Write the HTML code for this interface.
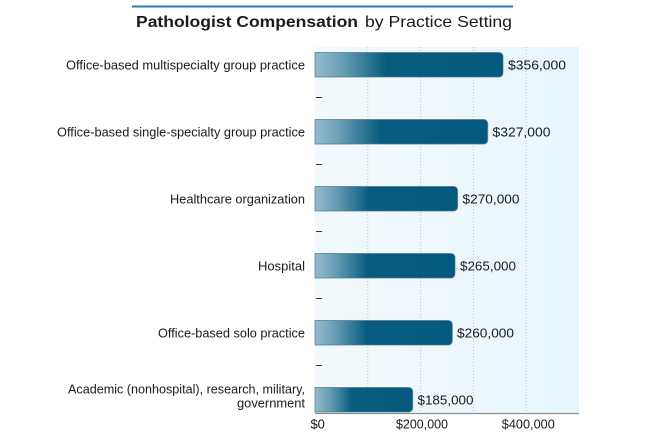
<!DOCTYPE html>
<html>
<head>
<meta charset="utf-8">
<style>
  html,body{margin:0;padding:0;background:#fff;}
  svg{display:block;}
  text{font-family:"Liberation Sans",Arial,sans-serif;fill:#1a1a1a;}
</style>
</head>
<body>
<svg width="645" height="439" viewBox="0 0 645 439" xmlns="http://www.w3.org/2000/svg">
  <defs>
    <linearGradient id="bg" x1="0" y1="0" x2="1" y2="0">
      <stop offset="0" stop-color="#f3f9fc"/>
      <stop offset="1" stop-color="#e7f5fd"/>
    </linearGradient>
    <linearGradient id="bar" x1="0" y1="0" x2="1" y2="0">
      <stop offset="0" stop-color="#93bccd"/>
      <stop offset="0.14" stop-color="#6a9fb6"/>
      <stop offset="0.38" stop-color="#075b7f"/>
      <stop offset="1" stop-color="#045a7e"/>
    </linearGradient>
  </defs>

  <!-- title rule -->
  <rect x="132" y="5.5" width="381" height="2" fill="#2a82ab"/>
  <!-- title -->
  <text x="136" y="27" font-size="16" font-weight="bold" textLength="222" lengthAdjust="spacingAndGlyphs">Pathologist Compensation</text>
  <text x="365" y="27" font-size="16" textLength="147" lengthAdjust="spacingAndGlyphs">by Practice Setting</text>

  <!-- plot background -->
  <rect x="315" y="47" width="264" height="366" fill="url(#bg)"/>

  <!-- gridlines -->
  <g stroke="#b9c3c8" stroke-width="1" stroke-dasharray="1,2">
    <line x1="367.8" y1="47" x2="367.8" y2="413"/>
    <line x1="420.6" y1="47" x2="420.6" y2="413"/>
    <line x1="473.4" y1="47" x2="473.4" y2="413"/>
    <line x1="526.2" y1="47" x2="526.2" y2="413"/>
  </g>

  <!-- x axis line -->
  <line x1="315" y1="413.5" x2="579" y2="413.5" stroke="#8f8f8f" stroke-width="1.2"/>

  <!-- category ticks -->
  <g stroke="#333" stroke-width="1">
    <line x1="316" y1="97.5" x2="322" y2="97.5"/>
    <line x1="316" y1="164.5" x2="322" y2="164.5"/>
    <line x1="316" y1="231.5" x2="322" y2="231.5"/>
    <line x1="316" y1="298.5" x2="322" y2="298.5"/>
    <line x1="316" y1="365.5" x2="322" y2="365.5"/>
  </g>

  <!-- bars -->
  <g stroke="#4f7486" stroke-opacity="0.7" stroke-width="1">
    <path d="M315,52.5 H499 a4,4 0 0 1 4,4 V73 a4,4 0 0 1 -4,4 H315 Z" fill="url(#bar)"/>
    <path d="M315,119.5 H483.7 a4,4 0 0 1 4,4 V140 a4,4 0 0 1 -4,4 H315 Z" fill="url(#bar)"/>
    <path d="M315,186.5 H453.6 a4,4 0 0 1 4,4 V207 a4,4 0 0 1 -4,4 H315 Z" fill="url(#bar)"/>
    <path d="M315,253.5 H451 a4,4 0 0 1 4,4 V274 a4,4 0 0 1 -4,4 H315 Z" fill="url(#bar)"/>
    <path d="M315,320.5 H448.3 a4,4 0 0 1 4,4 V341 a4,4 0 0 1 -4,4 H315 Z" fill="url(#bar)"/>
    <path d="M315,387.5 H408.7 a4,4 0 0 1 4,4 V408 a4,4 0 0 1 -4,4 H315 Z" fill="url(#bar)"/>
  </g>

  <!-- value labels -->
  <g font-size="13">
    <text x="508" y="69.5" textLength="58" lengthAdjust="spacingAndGlyphs">$356,000</text>
    <text x="492.5" y="136.5" textLength="58" lengthAdjust="spacingAndGlyphs">$327,000</text>
    <text x="462.5" y="203.5" textLength="57" lengthAdjust="spacingAndGlyphs">$270,000</text>
    <text x="460" y="270.5" textLength="56" lengthAdjust="spacingAndGlyphs">$265,000</text>
    <text x="457" y="337.5" textLength="57" lengthAdjust="spacingAndGlyphs">$260,000</text>
    <text x="417.5" y="404.5" textLength="56" lengthAdjust="spacingAndGlyphs">$185,000</text>
  </g>

  <!-- category labels -->
  <g font-size="13" text-anchor="end">
    <text x="305" y="69.5" textLength="239" lengthAdjust="spacingAndGlyphs">Office-based multispecialty group practice</text>
    <text x="305" y="136.5" textLength="248" lengthAdjust="spacingAndGlyphs">Office-based single-specialty group practice</text>
    <text x="305" y="203.5" textLength="135" lengthAdjust="spacingAndGlyphs">Healthcare organization</text>
    <text x="305" y="270.5" textLength="47" lengthAdjust="spacingAndGlyphs">Hospital</text>
    <text x="305" y="337.5" textLength="147" lengthAdjust="spacingAndGlyphs">Office-based solo practice</text>
    <text x="305" y="393.5" textLength="237" lengthAdjust="spacingAndGlyphs">Academic (nonhospital), research, military,</text>
    <text x="305" y="407.5" textLength="68" lengthAdjust="spacingAndGlyphs">government</text>
  </g>

  <!-- x axis labels -->
  <g font-size="13" text-anchor="middle">
    <text x="317.7" y="428.5">$0</text>
    <text x="422" y="428.5" textLength="52" lengthAdjust="spacingAndGlyphs">$200,000</text>
    <text x="528.3" y="428.5" textLength="53" lengthAdjust="spacingAndGlyphs">$400,000</text>
  </g>
</svg>
</body>
</html>
